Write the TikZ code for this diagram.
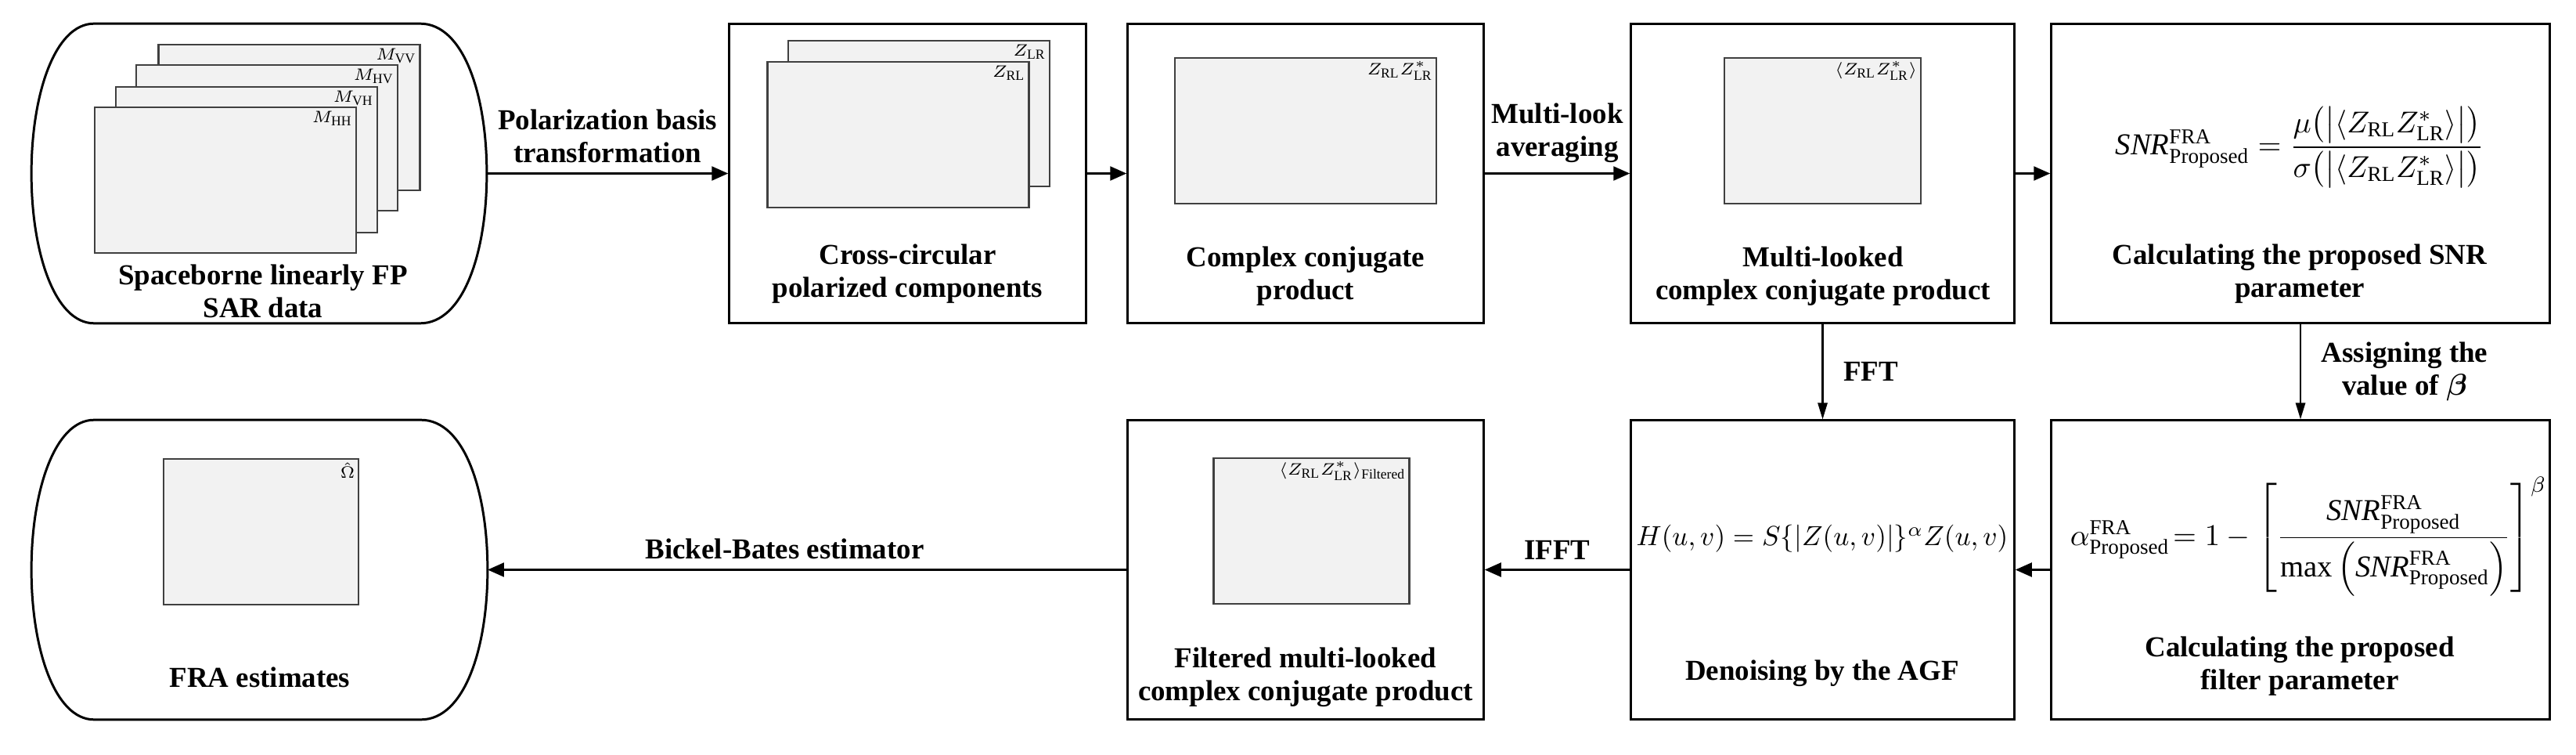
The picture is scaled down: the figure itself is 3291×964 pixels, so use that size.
\documentclass[tikz,border=0pt]{standalone}
\usepackage{amsmath}
\usepackage{fontspec}
\setmainfont{Liberation Serif}
\usetikzlibrary{arrows.meta}
\definecolor{sheetfill}{RGB}{242,242,242}
\newcommand{\drum}[1]{%
  \draw[blockline] ([xshift=0.8cm]#1.north west) -- ([xshift=-0.85cm]#1.north east)
    .. controls ([xshift=-0.3cm]#1.north east) and ([yshift=-0.9cm]#1.north east) .. (#1.east)
    .. controls ([yshift=0.9cm]#1.south east) and ([xshift=-0.3cm]#1.south east) .. ([xshift=-0.85cm]#1.south east)
    -- ([xshift=0.8cm]#1.south west)
    .. controls ([xshift=0.3cm]#1.south west) and ([yshift=0.9cm]#1.south west) .. (#1.west)
    .. controls ([yshift=-0.9cm]#1.north west) and ([xshift=0.3cm]#1.north west) .. cycle;}

\begin{document}
\begin{tikzpicture}[x=0.01cm, y=-0.01cm,
    blockline/.style={draw, line width=0.85pt},
    box/.style={blockline, minimum height=3.81cm, minimum width=#1},
    sheet/.style={draw=black!75, line width=0.7pt, fill=sheetfill, minimum height=1.86cm, minimum width=#1},
    sheet/.default=3.34cm,
    tag/.style={anchor=north east, inner sep=1.5pt, font=\fontsize{6}{7}\selectfont},
    words/.style={align=center, font=\fontsize{10.5}{12}\selectfont\bfseries},
    eqn/.style={font=\fontsize{11}{13}\selectfont},
    flow/.style={line width=1pt, -{Triangle[length=6pt,width=5pt]}},
    drop/.style={line width=0.6pt, -{Triangle[length=6pt,width=3.5pt]}}]
    \useasboundingbox (0,0) rectangle (3291,964);

    \node[minimum width=5.8cm, minimum height=3.81cm] (data) at (331,221.5) {};
    \drum{data}
    \node[sheet] (vv) at (369.5,150) {};
    \node[tag] (vvtag) at (vv.north east) {$M_{\mathrm{VV}}$};
    \node[sheet] (hv) at (341,176) {};
    \node[tag] (hvtag) at (hv.north east) {$M_{\mathrm{HV}}$};
    \node[sheet] (vh) at (315,204) {};
    \node[tag] (vhtag) at (vh.north east) {$M_{\mathrm{VH}}$};
    \node[sheet] (hh) at (288,230) {};
    \node[tag] (hhtag) at (hh.north east) {$M_{\mathrm{HH}}$};
    \node[words] (datatxt) at (336,372) {Spaceborne linearly FP\\SAR data};

    \node[box=4.55cm] (cross) at (1159.5,221.5) {};
    \node[sheet] (lr) at (1174,145) {};
    \node[tag] (lrtag) at (lr.north east) {$Z_{\mathrm{LR}}$};
    \node[sheet] (rl) at (1147.5,172) {};
    \node[tag] (rltag) at (rl.north east) {$Z_{\mathrm{RL}}$};
    \node[words] (crosstxt) at (1159.5,350) {Cross-circular\\polarized components};

    \node[box=4.54cm] (conj) at (1668,221.5) {};
    \node[sheet] (conjsheet) at (1668,167) {};
    \node[tag] (conjtag) at (conjsheet.north east) {$Z_{\mathrm{RL}}Z^{*}_{\mathrm{LR}}$};
    \node[words] (conjtxt) at (1668,353) {Complex conjugate\\product};

    \node[box=4.89cm] (multi) at (2328.5,221.5) {};
    \node[sheet=2.51cm] (multisheet) at (2328.5,167) {};
    \node[tag] (multitag) at (multisheet.north east) {$\langle Z_{\mathrm{RL}}Z^{*}_{\mathrm{LR}}\rangle$};
    \node[words] (multitxt) at (2329,353) {Multi-looked\\complex conjugate product};

    \node[box=6.36cm] (snr) at (2939,221.5) {};
    \node[eqn] (snreq) at (2938,188) {$\mathit{SNR}^{\mathrm{FRA}}_{\mathrm{Proposed}} = \dfrac{\mu\bigl(\bigl|\langle Z_{\mathrm{RL}}Z^{*}_{\mathrm{LR}}\rangle\bigr|\bigr)}{\sigma\bigl(\bigl|\langle Z_{\mathrm{RL}}Z^{*}_{\mathrm{LR}}\rangle\bigr|\bigr)}$};
    \node[words] (snrtxt) at (2938,350) {Calculating the proposed SNR\\parameter};

    \node[box=6.36cm] (param) at (2939,727.5) {};
    \node[eqn] (alphaeq) at (2949,685) {$\alpha^{\mathrm{FRA}}_{\mathrm{Proposed}}\!= 1-\left[\dfrac{\mathit{SNR}^{\mathrm{FRA}}_{\mathrm{Proposed}}}{\max\left(\mathit{SNR}^{\mathrm{FRA}}_{\mathrm{Proposed}}\right)}\right]^{\beta}$};
    \node[words] (paramtxt) at (2938,851) {Calculating the proposed\\filter parameter};

    \node[box=4.89cm] (agf) at (2328.5,727.5) {};
    \node[eqn, font=\fontsize{10.2}{12}\selectfont] (heq) at (2328,688) {$H(u,v) = S\{|Z(u,v)|\}^{\alpha} Z(u,v)$};
    \node[words] (agftxt) at (2328,860) {Denoising by the AGF};

    \node[box=4.54cm] (filt) at (1668,727.5) {};
    \node[sheet=2.5cm] (filtsheet) at (1675.5,678) {};
    \node[tag] (filttag) at (filtsheet.north east) {$\langle Z_{\mathrm{RL}}Z^{*}_{\mathrm{LR}}\rangle_{\mathrm{Filtered}}$};
    \node[words] (filttxt) at (1668,865) {Filtered multi-looked\\complex conjugate product};

    \node[minimum width=5.81cm, minimum height=3.81cm] (fra) at (331.5,727.5) {};
    \drum{fra}
    \node[sheet=2.49cm] (frasheet) at (333.5,679) {};
    \node[tag] (fratag) at (frasheet.north east) {$\hat{\Omega}$};
    \node[words] (fratxt) at (332,865) {FRA estimates};

    \draw[flow] (data) -- node[words, above] (polarlbl) {Polarization basis\\transformation} (cross);
    \draw[flow] (cross) -- (conj);
    \draw[flow] (conj) -- node[words, above] (looklbl) {Multi-look\\averaging} (multi);
    \draw[flow] (multi) -- (snr);
    \draw[drop] (multi) -- node[words, right, xshift=4pt] (fftlbl) {FFT} (agf);
    \draw[drop] (snr) -- node[words, right, xshift=4pt] (betalbl) {Assigning the\\value of $\boldsymbol{\beta}$} (param);
    \draw[flow] (param) -- (agf);
    \draw[flow] (agf) -- node[words, above] (ifftlbl) {IFFT} (filt);
    \draw[flow] (filt) -- node[words, above, pos=0.535] (bblbl) {Bickel-Bates estimator} (fra);
\end{tikzpicture}
\end{document}
